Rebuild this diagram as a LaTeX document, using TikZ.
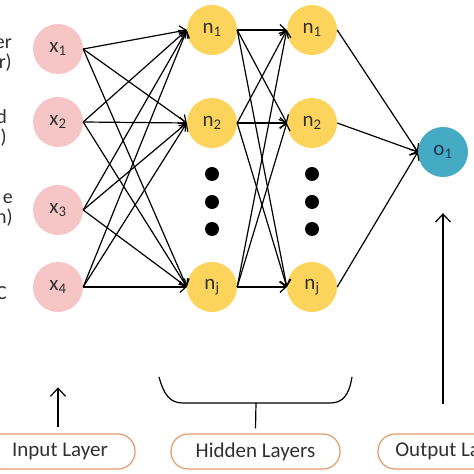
\documentclass[tikz,border=0pt]{standalone}
\usepackage{fontspec}
\setmainfont{Carlito}
\usetikzlibrary{arrows.meta}
\definecolor{inpink}{HTML}{F6C5C6}
\definecolor{hidyellow}{HTML}{FCD45C}
\definecolor{outteal}{HTML}{45AAC4}
\definecolor{boxorange}{HTML}{E39A6A}
\definecolor{labelgray}{HTML}{303030}
\definecolor{labelnavy}{HTML}{1D3550}
\tikzset{
  neuron/.style={circle,minimum size=50pt,inner sep=0pt,font=\fontsize{21}{25}\selectfont,text=labelgray},
  layerbox/.style={draw=boxorange,line width=1.2pt,rounded corners=17pt,minimum height=35pt,font=\fontsize{21}{25}\selectfont,text=labelgray},
  cutlabel/.style={anchor=east,align=right,font=\fontsize{20}{20}\selectfont,text=labelgray,inner sep=0pt},
  link/.style={line width=1.2pt,-{Straight Barb[length=6pt,width=11pt]}},
  pointer/.style={line width=1.2pt,-{Straight Barb[length=8pt,width=15pt]}}
}
\begin{document}
\begin{tikzpicture}[x=1pt,y=1pt]
  \useasboundingbox (0,0) rectangle (474,474);
  % input layer
  \foreach \i/\y in {1/425,2/352,3/264,4/187}
    \node[neuron,fill=inpink] (in\i) at (58,\y) {x\textsubscript{\i}};
  \node[cutlabel] (capA) at (12,419) {er\\r)};
  \node[cutlabel] (capB) at (7,346) {d\\)};
  \node[cutlabel] (capC) at (13,264) {e\\n)};
  \node[cutlabel] (capD) at (7,181) {C};
  % hidden layers
  \foreach \c/\x in {A/212,B/312}{
    \foreach \k/\s/\y in {1/1/444,2/2/351,3/j/187}
      \node[neuron,fill=hidyellow] (h\c\k) at (\x,\y) {n\textsubscript{\s}};
    \foreach \y in {300,272,245}
      \fill (\x,\y) circle (7pt);
  }
  % output layer
  \node[neuron,fill=outteal,text=labelnavy] (out) at (443,322) {o\textsubscript{1}};
  % connections
  \foreach \i in {1,...,4}
    \foreach \k in {1,2,3}
      \draw[link] (in\i.east) -- (hA\k.west);
  \foreach \j in {1,2,3}
    \foreach \k in {1,2,3}
      \draw[link] (hA\j.east) -- (hB\k.west);
  \foreach \k in {1,2,3}
    \draw[link] (hB\k.east) -- (out.west);
  % layer captions
  \node[layerbox,minimum width=150pt] (inbox) at (60,22.5) {Input Layer};
  \node[layerbox,minimum width=169pt] (hidbox) at (255.5,22.5) {Hidden Layers};
  \node[layerbox,minimum width=146pt] (outbox) at (451,22.5) {Output Layer};
  \draw[pointer] ([xshift=-2pt,yshift=6pt]inbox.north) -- ++(0,40);
  \draw[line width=1.2pt] (159,97) .. controls (164,79) and (170,71) .. (183,71)
    -- (330,71) .. controls (343,71) and (349,79) .. (352,97);
  \draw[line width=1.2pt] (256,71) -- ([yshift=5pt]hidbox.north);
  \draw[pointer] ([xshift=-8pt,yshift=29pt]outbox.north) -- ([yshift=-36pt]out.south);
\end{tikzpicture}
\end{document}
